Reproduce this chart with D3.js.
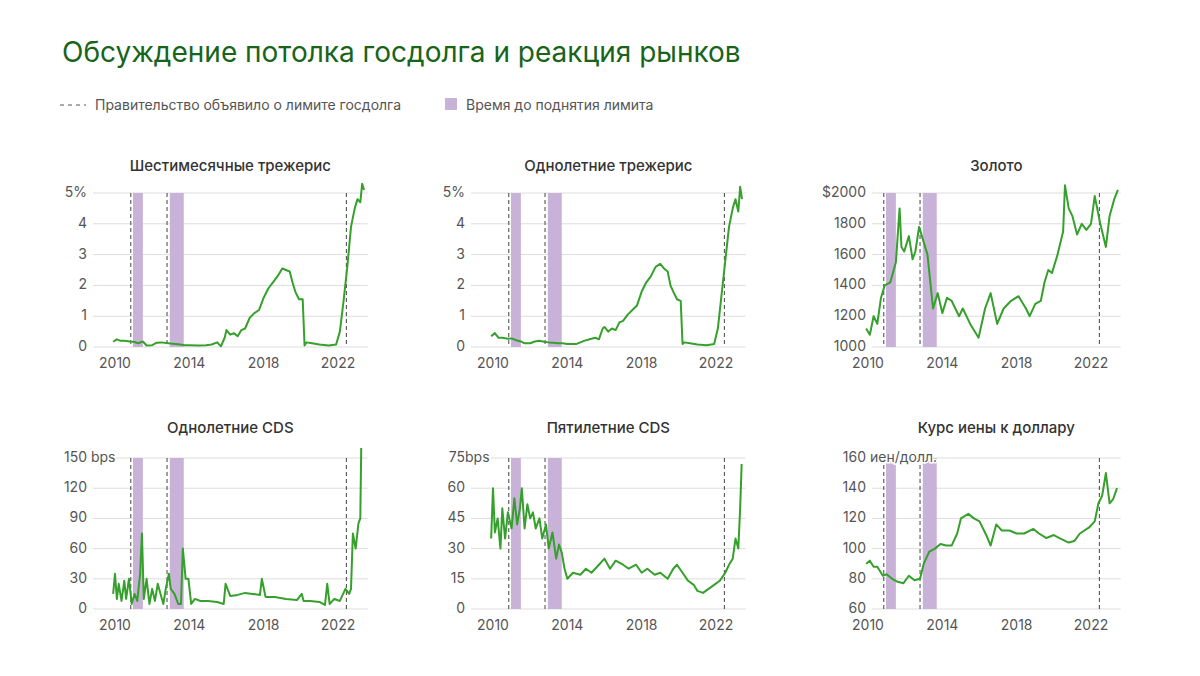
<!DOCTYPE html>
<html><head><meta charset="utf-8">
<script src="https://cdn.jsdelivr.net/npm/d3@7"></script>
<style>body{margin:0;background:#fff;font-family:Inter,"Noto Sans",sans-serif}</style>
</head><body><div id="chart"></div>
<script>
// data
const bill6mDates = [2009.9,2010.1,2010.3,2010.5,2010.8,2011,2011.25,2011.5,2011.7,2012,2012.25,2012.5,2012.75,2013,2013.25,2013.5,2013.75,2014,2014.5,2014.9,2015.2,2015.5,2015.7,2015.9,2016,2016.2,2016.4,2016.6,2016.8,2017,2017.25,2017.5,2017.75,2018,2018.25,2018.5,2018.75,2019,2019.2,2019.4,2019.55,2019.7,2019.9,2020.1,2020.2,2020.3,2020.6,2021,2021.5,2021.9,2022.1,2022.3,2022.5,2022.7,2022.9,2023.05,2023.2,2023.3,2023.4];
const bill6m = [0.17,0.25,0.2,0.2,0.18,0.17,0.12,0.18,0.05,0.06,0.14,0.15,0.13,0.11,0.1,0.08,0.06,0.06,0.05,0.06,0.08,0.15,0.02,0.3,0.55,0.4,0.45,0.35,0.55,0.6,0.95,1.1,1.2,1.6,1.9,2.1,2.3,2.55,2.5,2.45,2.1,1.8,1.55,1.55,0.05,0.15,0.12,0.08,0.05,0.08,0.5,1.5,2.6,3.9,4.5,4.8,4.7,5.3,5.1];
const bill1yDates = [2009.9,2010.1,2010.3,2010.5,2010.8,2011,2011.25,2011.5,2011.7,2012,2012.25,2012.5,2012.75,2013,2013.25,2013.5,2013.75,2014,2014.5,2014.9,2015.2,2015.5,2015.7,2015.9,2016,2016.2,2016.4,2016.6,2016.8,2017,2017.25,2017.5,2017.75,2018,2018.25,2018.5,2018.75,2019,2019.2,2019.4,2019.55,2019.7,2019.9,2020.1,2020.2,2020.3,2020.6,2021,2021.5,2021.9,2022.1,2022.3,2022.5,2022.7,2022.9,2023.05,2023.2,2023.3,2023.4];
const bill1y = [0.35,0.45,0.3,0.3,0.27,0.28,0.22,0.18,0.12,0.12,0.18,0.2,0.17,0.15,0.14,0.12,0.12,0.1,0.1,0.2,0.25,0.3,0.25,0.6,0.65,0.5,0.6,0.55,0.8,0.85,1.05,1.2,1.35,1.8,2.1,2.3,2.6,2.7,2.55,2.45,2.0,1.8,1.55,1.5,0.1,0.15,0.12,0.08,0.06,0.1,0.6,1.7,2.8,3.9,4.5,4.8,4.4,5.2,4.8];
const goldDates = [2009.9,2010.1,2010.3,2010.5,2010.7,2010.9,2011.2,2011.5,2011.7,2011.8,2011.95,2012.2,2012.4,2012.55,2012.75,2013,2013.2,2013.5,2013.75,2014,2014.25,2014.5,2014.9,2015.1,2015.5,2015.95,2016.3,2016.6,2016.95,2017.3,2017.7,2018.1,2018.5,2018.7,2019,2019.3,2019.5,2019.7,2019.9,2020.2,2020.5,2020.6,2020.8,2021,2021.25,2021.5,2021.75,2022,2022.2,2022.5,2022.8,2023,2023.25,2023.45];
const gold = [1120,1080,1200,1150,1320,1400,1420,1550,1900,1650,1620,1720,1570,1620,1780,1680,1600,1250,1350,1220,1320,1300,1200,1250,1150,1060,1250,1350,1150,1250,1300,1330,1250,1200,1280,1300,1420,1500,1480,1600,1750,2050,1900,1850,1730,1800,1760,1800,1980,1800,1650,1850,1960,2020];
const cds1yDates = [2009.9,2010,2010.1,2010.2,2010.35,2010.5,2010.6,2010.75,2010.9,2011.05,2011.2,2011.35,2011.45,2011.55,2011.7,2011.85,2012,2012.15,2012.3,2012.45,2012.6,2012.75,2012.9,2013,2013.2,2013.4,2013.55,2013.65,2013.8,2013.95,2014.1,2014.3,2014.6,2015,2015.5,2015.85,2015.95,2016.2,2016.6,2017,2017.4,2017.8,2017.9,2018.1,2018.6,2019.2,2019.8,2020.05,2020.15,2020.5,2021,2021.3,2021.42,2021.55,2021.8,2022.1,2022.4,2022.6,2022.7,2022.8,2022.95,2023.1,2023.2,2023.25];
const cds1y = [15,35,10,25,8,28,10,30,5,15,8,35,75,10,30,5,20,8,25,15,5,22,35,20,15,5,5,60,30,30,5,10,8,8,7,5,25,13,14,16,15,14,30,12,12,10,9,15,8,8,7,4,25,5,10,8,20,15,20,75,60,85,90,160];
const cds5yDates = [2009.9,2010,2010.1,2010.25,2010.4,2010.5,2010.65,2010.8,2011,2011.15,2011.3,2011.45,2011.55,2011.7,2011.85,2012,2012.15,2012.3,2012.5,2012.65,2012.85,2013,2013.2,2013.4,2013.55,2013.7,2013.85,2014,2014.3,2014.7,2015,2015.3,2015.7,2016,2016.3,2016.6,2017,2017.3,2017.7,2018,2018.3,2018.7,2019,2019.4,2019.7,2019.9,2020.2,2020.5,2020.8,2021,2021.3,2021.6,2021.9,2022.2,2022.5,2022.7,2022.9,2023.05,2023.2,2023.3,2023.38];
const cds5y = [35,60,38,45,30,50,35,48,40,55,42,50,60,40,52,45,48,40,45,35,42,30,38,25,32,28,20,15,18,17,20,18,22,25,20,24,22,20,22,18,20,17,18,15,20,22,18,14,12,9,8,10,12,14,18,22,25,35,30,50,72];
const yenDates = [2009.9,2010.1,2010.3,2010.5,2010.8,2011,2011.3,2011.6,2011.9,2012.2,2012.5,2012.8,2013,2013.3,2013.6,2013.9,2014.2,2014.5,2014.8,2015,2015.4,2015.7,2016,2016.4,2016.6,2016.9,2017.2,2017.6,2018,2018.4,2018.9,2019.2,2019.6,2020,2020.3,2020.8,2021.1,2021.4,2021.9,2022.2,2022.4,2022.6,2022.8,2022.9,2023,2023.2,2023.4];
const yen = [90,92,88,88,82,83,80,78,77,82,79,80,90,98,100,103,102,102,110,120,123,120,118,108,102,116,112,112,110,110,113,110,107,109,107,104,105,110,114,118,130,135,150,140,130,133,140];

const xYears = [2010, 2014, 2018, 2022];
const announce = [2010.85, 2012.8, 2022.45];
const shadeStart = [2010.97, 2012.95];
const shadeEnd = [2011.5, 2013.7];

const panels = [
  {title:"Шестимесячные трежерис", dates:bill6mDates, values:bill6m, y:[0,5], ticks:[0,1,2,3,4,5], labels:["0","1","2","3","4","5%"], unit:""},
  {title:"Однолетние трежерис", dates:bill1yDates, values:bill1y, y:[0,5], ticks:[0,1,2,3,4,5], labels:["0","1","2","3","4","5%"], unit:""},
  {title:"Золото", dates:goldDates, values:gold, y:[1000,2000], ticks:[1000,1200,1400,1600,1800,2000], labels:["1000","1200","1400","1600","1800","$2000"], unit:""},
  {title:"Однолетние CDS", dates:cds1yDates, values:cds1y, y:[0,150], ticks:[0,30,60,90,120,150], labels:["0","30","60","90","120","150"], unit:" bps"},
  {title:"Пятилетние CDS", dates:cds5yDates, values:cds5y, y:[0,75], ticks:[0,15,30,45,60,75], labels:["0","15","30","45","60","75"], unit:"bps"},
  {title:"Курс иены к доллару", dates:yenDates, values:yen, y:[60,160], ticks:[60,80,100,120,140,160], labels:["60","80","100","120","140","160"], unit:" иен/долл."}
];

const W = 1200, H = 676;
const green = "#35a02b", shade = "#c9b2d8";
const svg = d3.select("#chart").append("svg").attr("width", W).attr("height", H);

svg.append("text").attr("x", 62).attr("y", 62).attr("fill", "#17641a")
  .attr("font-size", 28).text("Обсуждение потолка госдолга и реакция рынков");

// legend
svg.append("line").attr("x1", 60).attr("x2", 86).attr("y1", 105).attr("y2", 105)
  .attr("stroke", "#555").attr("stroke-dasharray", "4,4");
svg.append("text").attr("x", 95).attr("y", 110).attr("font-size", 14).attr("fill", "#555")
  .text("Правительство объявило о лимите госдолга");
svg.append("rect").attr("x", 445).attr("y", 98).attr("width", 12).attr("height", 12).attr("fill", shade);
svg.append("text").attr("x", 466).attr("y", 110).attr("font-size", 14).attr("fill", "#555")
  .text("Время до поднятия лимита");

const colX2010 = [115, 493, 868];
const gridLeft = [93, 471, 872];
const rowTop = [193, 458], rowBottom = [347, 609];
const titleY = [171, 433];

panels.forEach((p, i) => {
  const c = i % 3, r = Math.floor(i / 3);
  const x = d3.scaleLinear().domain([2010, 2022]).range([colX2010[c], colX2010[c] + 223]);
  const y = d3.scaleLinear().domain(p.y).range([rowBottom[r], rowTop[r]]);
  const g = svg.append("g");
  const x0 = gridLeft[c], x1 = x(2023.6);

  g.append("text").attr("x", (x0 + x1) / 2).attr("y", titleY[r]).attr("text-anchor", "middle")
    .attr("font-size", 15).attr("font-weight", 500).attr("fill", "#333").text(p.title);

  g.selectAll(".grid").data(p.ticks).join("line")
    .attr("x1", x0).attr("x2", x1).attr("y1", d => y(d)).attr("y2", d => y(d))
    .attr("stroke", "#ddd");

  g.selectAll(".sh").data(shadeStart).join("rect")
    .attr("x", (d) => x(d)).attr("width", (d, k) => x(shadeEnd[k]) - x(d))
    .attr("y", y(p.y[1])).attr("height", y(p.y[0]) - y(p.y[1])).attr("fill", shade);

  g.selectAll(".an").data(announce).join("line")
    .attr("x1", d => x(d)).attr("x2", d => x(d))
    .attr("y1", y(p.y[1])).attr("y2", y(p.y[0]))
    .attr("stroke", "#444").attr("stroke-dasharray", "4,3");

  g.selectAll(".yl").data(p.ticks).join("text")
    .attr("x", x0 - 6).attr("y", d => y(d) + 4)
    .attr("text-anchor", "end").attr("font-size", 14).attr("fill", "#555")
    .text((d, k) => p.labels[k]);
  if (p.unit) {
    g.append("text").attr("x", x0 - 6).attr("y", y(p.ticks[p.ticks.length - 1]) + 4)
      .attr("font-size", 14).attr("fill", "#555").attr("xml:space", "preserve")
      .attr("paint-order", "stroke").attr("stroke", "#fff").attr("stroke-width", 3).text(p.unit);
  }

  g.selectAll(".xl").data(xYears).join("text")
    .attr("x", d => x(d)).attr("y", rowBottom[r] + 21).attr("text-anchor", "middle")
    .attr("font-size", 14).attr("fill", "#555").text(d => d);

  const line = d3.line().x((d, k) => x(p.dates[k])).y(d => y(d));
  g.append("path").datum(p.values).attr("d", line)
    .attr("fill", "none").attr("stroke", green).attr("stroke-width", 2).attr("stroke-linejoin", "round");
});
</script></body></html>
